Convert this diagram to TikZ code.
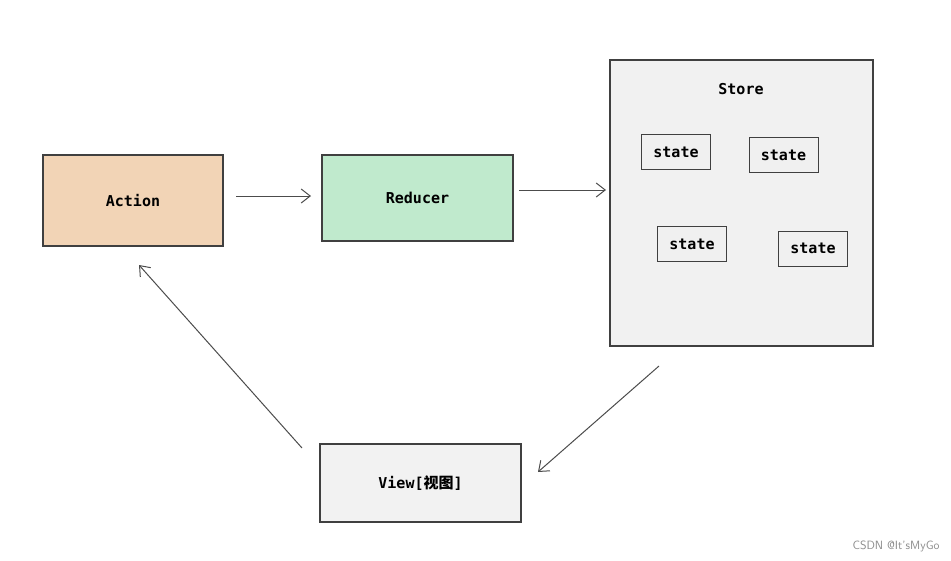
\documentclass[tikz,border=0pt]{standalone}
\usepackage{fontspec}
\setmonofont{DejaVu Sans Mono}
\newfontfamily\cjk{Noto Sans CJK SC}
\usetikzlibrary{patterns,arrows.meta}
\begin{document}
\begin{tikzpicture}[x=1pt,y=-1pt,
 box/.style={draw=black!75,line width=1.1pt,font=\ttfamily\bfseries\fontsize{15}{18}\selectfont},
 st/.style={draw=black!75,line width=1pt,fill=white!94!black,font=\ttfamily\bfseries\fontsize{15}{18}\selectfont,minimum width=69pt,minimum height=35pt,inner sep=0pt},
 arr/.style={draw=black!70,line width=1pt,-{Straight Barb[length=9pt,width=14pt]}}]
\useasboundingbox (0,0) rectangle (951,560);
\fill[white] (0,0) rectangle (951,560);
\node[box,fill={rgb,255:red,242;green,212;blue,182},minimum width=180pt,minimum height=91pt] (action) at (133,200.5) {Action};
\node[box,fill={rgb,255:red,192;green,234;blue,205},minimum width=191pt,minimum height=86pt] (reducer) at (417.5,198) {Reducer};
\node[box,fill={rgb,255:red,241;green,241;blue,241},minimum width=263pt,minimum height=286pt] (store) at (741.5,203) {};
\node[font=\ttfamily\bfseries\fontsize{15}{18}\selectfont] (storelbl) at (741,89) {Store};
\node[st] (s1) at (676,152) {state};
\node[st] (s2) at (783.5,155) {state};
\node[st] (s3) at (692,244) {state};
\node[st] (s4) at (813,248.5) {state};
\node[box,fill={rgb,255:red,242;green,242;blue,242},minimum width=201pt,minimum height=78pt] (view) at (420.5,483) {View[{\cjk 视图}]};
\coordinate (a1) at (236,196); \coordinate (a2) at (311,196);
\coordinate (b1) at (519,190); \coordinate (b2) at (606,190);
\coordinate (c1) at (659,366); \coordinate (c2) at (538,472);
\coordinate (d1) at (302,448); \coordinate (d2) at (139,265);
\draw[arr] (a1) -- (a2);
\draw[arr] (b1) -- (b2);
\draw[arr] (c1) -- (c2);
\draw[arr] (d1) -- (d2);
\node[font=\sffamily\fontsize{12}{14}\selectfont,text=black!45,anchor=east] (wm) at (943,546) {CSDN @It'sMyGo};
\end{tikzpicture}
\end{document}
